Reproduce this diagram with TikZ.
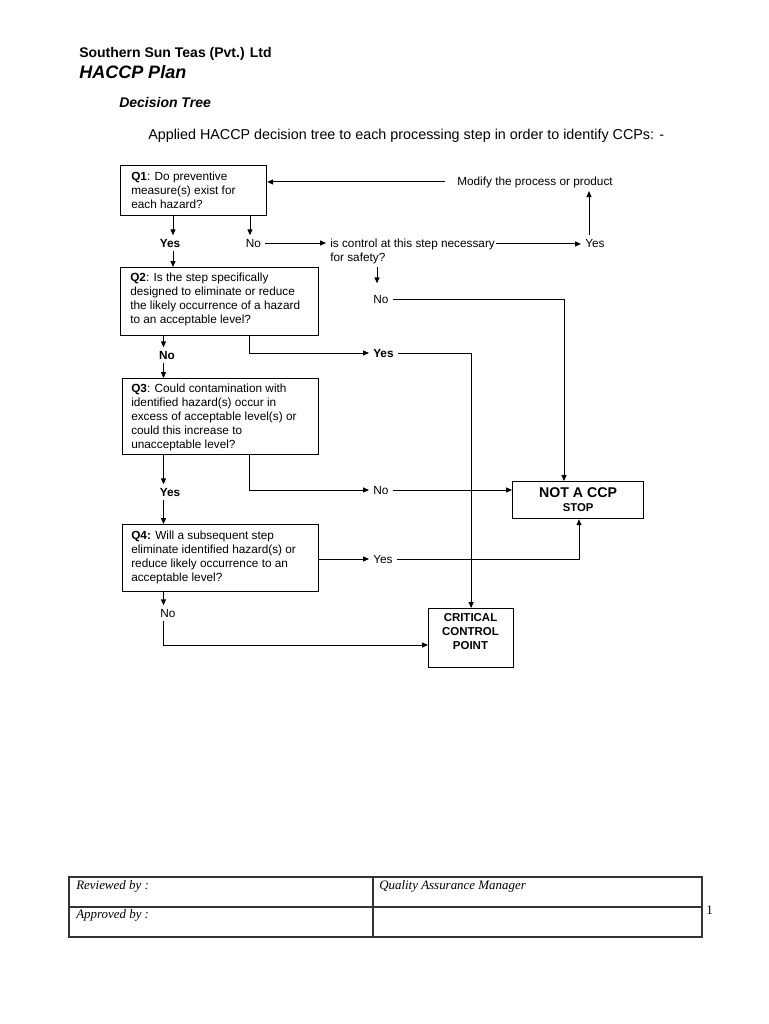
\documentclass[tikz,border=0pt]{standalone}
\usepackage{fontspec}
\setmainfont{Liberation Sans}
\newfontfamily\tnr{Liberation Serif}
\usetikzlibrary{arrows.meta}
\begin{document}
\begin{tikzpicture}[x=0.75pt,y=-0.75pt,
  box/.style={draw, line width=0.9pt, rectangle, inner sep=0pt, anchor=north west},
  txt/.style={inner sep=0pt, align=left, anchor=west, font=\fontsize{8.85pt}{10.5pt}\selectfont},
  lbl/.style={inner xsep=3pt, inner ysep=2.5pt, font=\fontsize{8.85pt}{10.5pt}\selectfont},
  blbl/.style={lbl, font=\fontsize{8.85pt}{10.5pt}\selectfont\bfseries},
  arr/.style={line width=0.75pt, -{Triangle[length=4.5pt,width=3.8pt]}},
  ln/.style={line width=0.75pt},
  ttl/.style={inner sep=0pt, anchor=base west},
  tbl/.style={inner sep=0pt, anchor=base west, font=\tnr\itshape\fontsize{9.7pt}{11pt}\selectfont},
  tline/.style={line width=0.85pt, black!80},
]
\useasboundingbox (0,0) rectangle (768,1024);

% headings
\node[ttl, font=\fontsize{10.5pt}{12pt}\selectfont\bfseries] (h1) at (79,58) {Southern Sun Teas (Pvt.) Ltd};
\node[ttl, font=\fontsize{13.5pt}{15pt}\selectfont\bfseries\itshape] (h2) at (79,79) {HACCP Plan};
\node[ttl, font=\fontsize{10.5pt}{12pt}\selectfont\bfseries\itshape] (h3) at (119,108) {Decision Tree};
\node[ttl, font=\fontsize{10.75pt}{12pt}\selectfont] (h4) at (148,139) {Applied HACCP decision tree to each processing step in order to identify CCPs: -};

% helper x/y positions
\coordinate (xa) at (173,0);
\coordinate (xb) at (250,0);
\coordinate (xc) at (163.5,0);
\coordinate (xd) at (249.5,0);
\coordinate (xe) at (377,0);
\coordinate (xf) at (564,0);
\coordinate (xg) at (579,0);
\coordinate (xh) at (589,0);
\coordinate (yh) at (0,645);

% boxes
\node[box, minimum width=109.5pt, minimum height=37.5pt] (q1) at (120,165) {};
\node[txt] (q1t) at (131,190) {\textbf{Q1}: Do preventive\\measure(s) exist for\\each hazard?};
\node[box, minimum width=148.5pt, minimum height=51pt] (q2) at (120,267) {};
\node[txt] (q2t) at (130,299) {\textbf{Q2}: Is the step specifically\\designed to eliminate or reduce\\the likely occurrence of a hazard\\to an acceptable level?};
\node[box, minimum width=147pt, minimum height=57pt] (q3) at (122,378) {};
\node[txt] (q3t) at (131,417) {\textbf{Q3}: Could contamination with\\identified hazard(s) occur in\\excess of acceptable level(s) or\\could this increase to\\unacceptable level?};
\node[box, minimum width=147pt, minimum height=50.25pt] (q4) at (122,524) {};
\node[txt] (q4t) at (131,557) {\textbf{Q4:} Will a subsequent step\\eliminate identified hazard(s) or\\reduce likely occurrence to an\\acceptable level?};
\node[box, minimum width=98.25pt, minimum height=27.75pt, align=center] (notccp) at (512,481)
  {{\fontsize{10.6pt}{11pt}\selectfont\bfseries NOT A CCP}\\[-1.5pt]{\fontsize{8.5pt}{9pt}\selectfont\bfseries STOP}};
\node[box, minimum width=63.75pt, minimum height=44.25pt] (ccp) at (428,608) {};
\node[inner sep=0pt, align=center, font=\fontsize{8.6pt}{10.5pt}\selectfont\bfseries] (ccpt) at (470.5,632) {CRITICAL\\CONTROL\\POINT};

% labels
\node[blbl, anchor=base] (yes1) at (170,247) {Yes};
\node[lbl, anchor=base] (no1) at (253.5,247) {No};
\node[lbl, anchor=base west] (isA) at (326,247) {is control at this step necessary};
\node[lbl, anchor=base west] (isB) at (326,261) {for safety?};
\node[lbl, anchor=base west] (yes2) at (581,247) {Yes};
\node[lbl, anchor=base west] (modify) at (453,185) {Modify the process or product};
\node[lbl, anchor=base west] (no2) at (369,303) {No};
\node[blbl, anchor=base] (no3) at (167,359) {No};
\node[blbl, anchor=base west] (yes3) at (369,357) {Yes};
\node[blbl, anchor=base] (yes4) at (170,496) {Yes};
\node[lbl, anchor=base west] (no4) at (369,494) {No};
\node[lbl, anchor=base west] (yes5) at (369,563) {Yes};
\node[lbl, anchor=base west] (no5) at (156,617) {No};

% connectors
\draw[arr] (q1.south -| xa) -- (yes1.north -| xa);
\draw[arr] (q1.south -| xb) -- (no1.north -| xb);
\draw[arr] (yes1.south -| xa) -- (q2.north -| xa);
\draw[arr] (no1.east) -- (no1.east -| isA.west);
\draw[arr, shorten <=-2pt] (isA.east) -- (isA.east -| yes2.west);
\draw[arr] (yes2.north -| xh) -- (modify.south -| xh);
\draw[arr, shorten <=6pt] (modify.west) -- (modify.west -| q1.east);
\draw[arr, shorten >=6pt] (isB.south -| xe) -- (no2.north -| xe);
\draw[arr] (no2.east) -| (notccp.north -| xf);
\draw[arr] (q2.south -| xc) -- (no3.north -| xc);
\draw[arr] (no3.south -| xc) -- (q3.north -| xc);
\draw[arr] (q2.south -| xd) |- (yes3.west);
\draw[arr] (yes3.east) -| (ccp.north);
\draw[arr] (q3.south -| xc) -- (yes4.north -| xc);
\draw[arr] (yes4.south -| xc) -- (q4.north -| xc);
\draw[arr] (q3.south -| xd) |- (no4.west);
\draw[arr] (no4.east) -- (no4.east -| notccp.west);
\draw[arr] (q4.east |- yes5.west) -- (yes5.west);
\draw[arr] (yes5.east) -| (notccp.south -| xg);
\draw[arr] (q4.south -| xc) -- (no5.north -| xc);
\draw[arr] (no5.south -| xc) |- (ccp.west |- yh);

% sign-off table
\draw[tline] (69,877) rectangle (702,937);
\draw[tline] (69,907) -- (702,907);
\draw[tline] (373,877) -- (373,937);
\node[tbl] (rev) at (76,889) {Reviewed by :};
\node[tbl] (qam) at (379,889) {Quality Assurance Manager};
\node[tbl] (appr) at (76,918) {Approved by :};
\node[inner sep=0pt, anchor=base west, font=\tnr\fontsize{9.7pt}{11pt}\selectfont] (pg) at (706,914) {1};
\end{tikzpicture}
\end{document}
